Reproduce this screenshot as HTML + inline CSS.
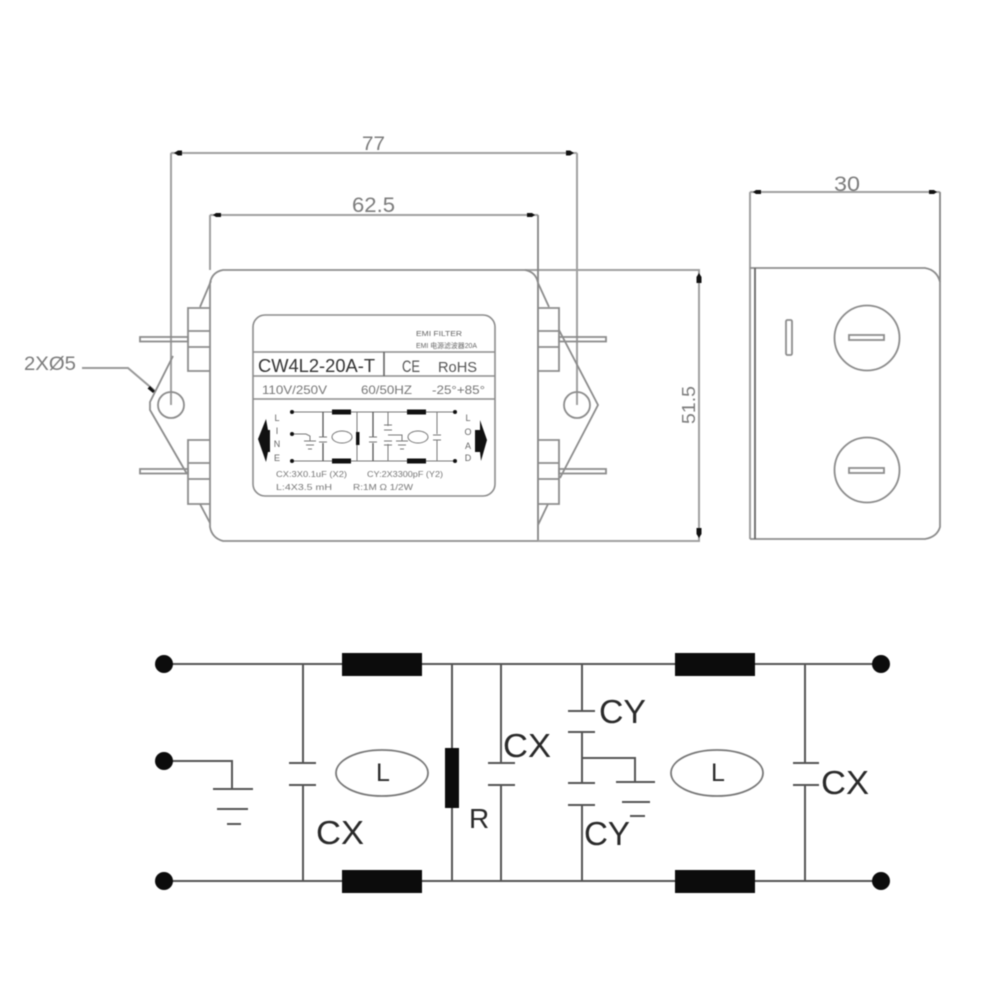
<!DOCTYPE html>
<html><head><meta charset="utf-8"><style>
html,body{margin:0;padding:0;background:#fff;width:1001px;height:1001px;overflow:hidden}
svg{display:block;filter:blur(.45px)}
text{font-family:"Liberation Sans","Noto Sans CJK SC",sans-serif}
</style></head><body>
<svg width="1001" height="1001" viewBox="0 0 1001 1001" xmlns="http://www.w3.org/2000/svg">
<rect width="1001" height="1001" fill="#fff"/>

<!-- Dimensions -->
<g fill="none" stroke="#a0a0a0" stroke-width="2">
<path d="M171 153H577M171 153V405M577 153V405"/>
<path d="M210 215H538M210 215V270"/>
<path d="M750 192H940M750 192V539"/>
<path d="M525 270H700M538 541H700M699 270V541"/>
<path d="M82 368H128L155 391" stroke="#999"/>
</g>
<path d="M538 215V540M940 192V282" fill="none" stroke="#858585" stroke-width="1.800"/>
<g fill="#111">
<path d="M174 153l4-2.500h4v5h-4zM574 153l-4-2.500h-4v5h4zM213 215l3-2h5v4h-5zM535 215l-3-2h-5v4h5zM753 192l3-2h5v4h-5zM937 192l-3-2h-5v4h5z"/>
<path d="M699 273l-2.500 4v6h5v-6zM699 538l-2.500-4v-6h5v6zM155 391l-5-5-2.500 2.500 5.500 4.500z"/>
</g>
<g fill="#7c7c7c">
<text x="362" y="150" font-size="19" textLength="23" lengthAdjust="spacingAndGlyphs">77</text>
<text x="352" y="212" font-size="21" textLength="43" lengthAdjust="spacingAndGlyphs">62.5</text>
<text x="834" y="191" font-size="21" textLength="26" lengthAdjust="spacingAndGlyphs">30</text>
<text x="24" y="370" font-size="19" textLength="52" lengthAdjust="spacingAndGlyphs">2XØ5</text>
<text transform="translate(695 424) rotate(-90)" font-size="18" textLength="38" lengthAdjust="spacingAndGlyphs">51.5</text>
</g>

<!-- Front body -->
<g fill="none" stroke="#8c8c8c" stroke-width="1.800">
<path d="M538 283Q536 272 525 270H223Q212 272 210 283V527Q212 538 223 541H538"/>
<path d="M211 281L200 307M200 504L210 523"/>
<path d="M173 356L150 402V410L187 474"/>
<path d="M538 283L549 307M559 330L598 405L560 478M538 525L548 504"/>
<path d="M210 308H188V371H210M188 331H210M188 347H210"/>
<path d="M210 440H188V504H210M188 463H210M188 479H210"/>
<path d="M538 308H559V371H538M538 331H559M538 347H559"/>
<path d="M538 440H559V504H538M538 463H559M538 479H559"/>
<rect x="140" y="337" width="48" height="4.500"/>
<rect x="140" y="469" width="48" height="4.500"/>
<rect x="559" y="337" width="47" height="4.500"/>
<rect x="559" y="469" width="47" height="4.500"/>
<circle cx="171" cy="405" r="13"/>
<circle cx="577" cy="405" r="13"/>
</g>

<!-- Label -->
<g fill="none" stroke="#8c8c8c" stroke-width="1.600">
<rect x="253" y="315" width="242" height="181" rx="12"/>
<path d="M253 352H495M253 376H495M253 399H495"/>
<path d="M384 352V376" stroke="#666"/>
</g>
<text x="258" y="372" font-size="18" fill="#333" textLength="117" lengthAdjust="spacingAndGlyphs">CW4L2-20A-T</text>
<text x="402" y="372" font-size="17" fill="#555" textLength="18" lengthAdjust="spacingAndGlyphs">CE</text>
<text x="438" y="372" font-size="15" fill="#555" textLength="39" lengthAdjust="spacingAndGlyphs">RoHS</text>
<text x="416" y="336" font-size="7" fill="#666" textLength="46" lengthAdjust="spacingAndGlyphs">EMI FILTER</text>
<text x="416" y="348" font-size="7" fill="#666" textLength="61" lengthAdjust="spacingAndGlyphs">EMI 电源滤波器20A</text>
<g fill="#777">
<text x="262" y="394" font-size="12" textLength="65" lengthAdjust="spacingAndGlyphs">110V/250V</text>
<text x="361" y="394" font-size="12" textLength="51" lengthAdjust="spacingAndGlyphs">60/50HZ</text>
<text x="432" y="394" font-size="12" textLength="53" lengthAdjust="spacingAndGlyphs">-25°+85°</text>
<text x="276" y="477" font-size="8" textLength="71" lengthAdjust="spacingAndGlyphs">CX:3X0.1uF (X2)</text>
<text x="367" y="477" font-size="8" textLength="76" lengthAdjust="spacingAndGlyphs">CY:2X3300pF (Y2)</text>
<text x="276" y="490" font-size="8" textLength="56" lengthAdjust="spacingAndGlyphs">L:4X3.5 mH</text>
<text x="353" y="490" font-size="8" textLength="60" lengthAdjust="spacingAndGlyphs">R:1M Ω 1/2W</text>
</g>
<g fill="#666" font-size="9" text-anchor="middle">
<text x="277" y="421">L</text><text x="277" y="434">I</text><text x="277" y="447">N</text><text x="277" y="461">E</text>
<text x="468" y="421">L</text><text x="468" y="435">O</text><text x="468" y="449">A</text><text x="468" y="461">D</text>
</g>
<path d="M258 439L266 419L268 430H270V452H268L266 462Z" fill="#111"/>
<path d="M487 440L480 420L480 430H475V452H480L481 461Z" fill="#111"/>

<!-- Mini schematic -->
<g fill="none" stroke="#777" stroke-width="1">
<path d="M292 412H455M292 461H455M292 434H306L310 436V441"/>
<path d="M323 412V437M323 443V461M373 412V437M373 443V461" stroke="#555" stroke-width="1.300"/>
<path d="M357 412V461M388 412V426M388 444V461M437 412V434M437 440V461"/>
<path d="M319 437H327M319 442H327M369 437H377M369 442H377M384 425H392M384 430H392M384 441H392M384 445H392"/>
<path d="M433 435H441M433 440H441M388 435H402V441M396 441H408M398 445H406M400 449H404"/>
<path d="M304 441H316M306 445H314M308 449H312"/>
<ellipse cx="342" cy="437" rx="10" ry="6"/>
<ellipse cx="418" cy="437" rx="10" ry="6"/>
</g>
<g fill="#111">
<rect x="332" y="409.500" width="19" height="5"/><rect x="332" y="458.500" width="19" height="5"/>
<rect x="407" y="409.500" width="19" height="5"/><rect x="407" y="458.500" width="19" height="5"/>
<rect x="356" y="432" width="3.500" height="13"/>
<circle cx="292" cy="412" r="2"/><circle cx="292" cy="434" r="2"/><circle cx="292" cy="461" r="2"/>
<circle cx="455" cy="412" r="2"/><circle cx="455" cy="461" r="2"/>
</g>

<!-- Side view -->
<g fill="none" stroke="#8c8c8c" stroke-width="1.800">
<path d="M750 268H925Q937 270 940 282V527Q937 537 925 539H750"/>
<path d="M755 268V539" stroke="#666"/>
<rect x="786" y="320" width="6" height="35" rx="1.500"/>
<circle cx="867" cy="338" r="32.500"/>
<circle cx="867" cy="470" r="32.500"/>
<rect x="849" y="335" width="35" height="5"/>
<rect x="849" y="468" width="35" height="5"/>
</g>

<!-- Main schematic -->
<g fill="none" stroke="#555" stroke-width="2">
<path d="M164 664H881M164 881H881"/>
<path d="M164 761H232V789M213 789H253M217 809H248M227 824H241"/>
<path d="M303 664V763M303 785V881M289 763H316M289 785H316"/>
<path d="M452 664V881"/>
<path d="M501 664V763M501 785V881M488 763H515M488 785H515"/>
<path d="M582 664V711M582 732V783M582 805V881M568 711H595M568 732H595M568 783H595M568 805H595"/>
<path d="M582 758H635V782M616 782H655M622 802H650M630 816H645"/>
<path d="M805 664V763M805 785V881M793 763H819M793 785H819"/>
</g>
<g fill="none" stroke="#777" stroke-width="1.800">
<ellipse cx="382" cy="773" rx="46" ry="23"/>
<ellipse cx="717" cy="773" rx="46" ry="23"/>
</g>
<g fill="#0c0c0c">
<rect x="342" y="653" width="80" height="23"/><rect x="342" y="870" width="80" height="23"/>
<rect x="675" y="653" width="80" height="23"/><rect x="675" y="870" width="80" height="23"/>
<rect x="445" y="748" width="14" height="60"/>
<circle cx="164" cy="664" r="9"/><circle cx="164" cy="761" r="9"/><circle cx="164" cy="881" r="9"/>
<circle cx="881" cy="664" r="9"/><circle cx="881" cy="881" r="9"/>
</g>
<g fill="#2a2a2a">
<text x="376" y="781" font-size="25">L</text>
<text x="711" y="781" font-size="25">L</text>
<text x="316" y="844" font-size="33" textLength="48" lengthAdjust="spacingAndGlyphs">CX</text>
<text x="469" y="828" font-size="28">R</text>
<text x="503" y="757" font-size="33" textLength="48" lengthAdjust="spacingAndGlyphs">CX</text>
<text x="599" y="723" font-size="33" textLength="47" lengthAdjust="spacingAndGlyphs">CY</text>
<text x="584" y="845" font-size="33" textLength="46" lengthAdjust="spacingAndGlyphs">CY</text>
<text x="821" y="794" font-size="33" textLength="48" lengthAdjust="spacingAndGlyphs">CX</text>
</g>
</svg>
</body></html>
